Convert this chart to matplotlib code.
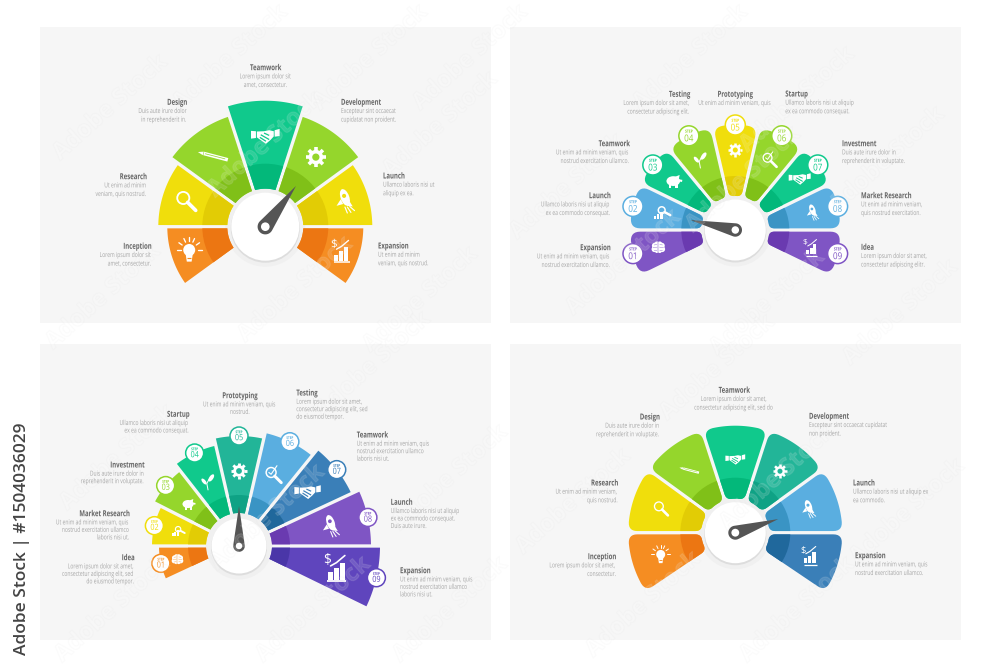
import numpy as np
import matplotlib
matplotlib.use("Agg")
import matplotlib.pyplot as plt
from matplotlib.patches import Circle, Polygon, Rectangle, Ellipse, Wedge
from matplotlib.transforms import Affine2D
import matplotlib.patheffects as pe

plt.rcParams['font.family'] = ['Open Sans', 'DejaVu Sans']

ORANGE, ORANGE_D = '#f58d22', '#ec7612'
YELLOW, YELLOW_D = '#f0de0c', '#e2cc05'
LIME, LIME_D = '#95d62c', '#80c018'
GREEN, GREEN_D = '#10c98c', '#03b87a'
TEAL, TEAL_D = '#22b598', '#0fa285'
BLUE, BLUE_D = '#5aaee0', '#3a94c4'
STEEL, STEEL_D = '#3a7fb8', '#20689c'
PURPLE, PURPLE_D = '#7f55c4', '#6a3ab0'
INDIGO, INDIGO_D = '#5f45bd', '#4a36a8'

# every list below runs counter clockwise, starting at the lower right segment
p1_titles = ["Expansion", "Launch", "Development", "Teamwork", "Design", "Research", "Inception"]
p1_texts = ["Ut enim ad minim\nveniam, quis nostrud.", "Ullamco laboris nisi ut\naliquip ex ea.",
            "Excepteur sint occaecat\ncupidatat non proident.", "Lorem ipsum dolor sit\namet, consectetur.",
            "Duis aute irure dolor\nin reprehenderit in.", "Ut enim ad minim\nveniam, quis nostrud.",
            "Lorem ipsum dolor sit\namet, consectetur."]
p1_edges = [-36, 0, 36, 72, 108, 144, 180, 216]
p1_radius = [98, 107, 116, 126, 116, 107, 98]
p1_colors = [ORANGE, YELLOW, LIME, GREEN, LIME, YELLOW, ORANGE]
p1_darks = [ORANGE_D, YELLOW_D, LIME_D, GREEN_D, LIME_D, YELLOW_D, ORANGE_D]
p1_icons = ["chart", "rocket", "gear", "hands", "pencil", "glass", "bulb"]
p1_needle = 53

p2_titles = ["Idea", "Market Research", "Investment", "Startup", "Prototyping", "Testing", "Teamwork", "Launch", "Expansion"]
p2_texts = ["Lorem ipsum dolor sit amet,\nconsectetur adipiscing elitr.", "Ut enim ad minim veniam,\nquis nostrud exercitation.",
            "Duis aute irure dolor in\nreprehenderit in voluptate.", "Ullamco laboris nisi ut aliquip\nex ea commodo consequat.",
            "Ut enim ad minim veniam, quis", "Lorem ipsum dolor sit amet,\nconsectetur adipiscing elit.",
            "Ut enim ad minim veniam, quis\nnostrud exercitation ullamco.", "Ullamco laboris nisi ut aliquip\nex ea commodo consequat.",
            "Ut enim ad minim veniam, quis\nnostrud exercitation ullamco."]
p2_edges = [-26, 0, 26, 50.5, 77, 103, 129.5, 154, 180, 206]
p2_radius = [105, 105, 105, 105, 105, 105, 105, 105, 105]
p2_colors = [PURPLE, BLUE, GREEN, LIME, YELLOW, LIME, GREEN, BLUE, PURPLE]
p2_darks = [PURPLE_D, BLUE_D, GREEN_D, LIME_D, YELLOW_D, LIME_D, GREEN_D, BLUE_D, PURPLE_D]
p2_steps = ["09", "08", "07", "06", "05", "04", "03", "02", "01"]
p2_icons = ["chart", "rocket", "hands", "check", "gear", "sprout", "pig", "chartglass", "brain"]
p2_needle = 167.5

p3_titles = ["Expansion", "Launch", "Teamwork", "Testing", "Prototyping", "Startup", "Investment", "Market Research", "Idea"]
p3_texts = ["Ut enim ad minim veniam, quis\nnostrud exercitation ullamco\nlaboris nisi ut.",
            "Ullamco laboris nisi ut aliquip\nex ea commodo consequat.\nDuis aute irure.",
            "Ut enim ad minim veniam, quis\nnostrud exercitation ullamco\nlaboris nisi ut.",
            "Lorem ipsum dolor sit amet,\nconsectetur adipiscing elit, sed\ndo eiusmod tempor.",
            "Ut enim ad minim veniam, quis\nnostrud.", "Ullamco laboris nisi ut aliquip\nex ea commodo consequat.",
            "Duis aute irure dolor in\nreprehenderit in voluptate.",
            "Ut enim ad minim veniam, quis\nnostrud exercitation ullamco\nlaboris nisi ut.",
            "Lorem ipsum dolor sit amet,\nconsectetur adipiscing elit, sed\ndo eiusmod tempor."]
p3_edges = [-26, 0, 25, 51, 77, 103, 128, 153, 180, 205]
p3_radius = [141, 132, 124, 116, 110, 103, 95, 87, 80]
p3_colors = [INDIGO, PURPLE, STEEL, BLUE, TEAL, GREEN, LIME, YELLOW, ORANGE]
p3_darks = [INDIGO_D, PURPLE_D, STEEL_D, BLUE_D, TEAL_D, GREEN_D, LIME_D, YELLOW_D, ORANGE_D]
p3_steps = ["09", "08", "07", "06", "05", "04", "03", "02", "01"]
p3_icons = ["chart", "rocket", "hands", "check", "gear", "sprout", "pig", "chartglass", "brain"]
p3_needle = 90

p4_titles = ["Expansion", "Launch", "Development", "Teamwork", "Design", "Research", "Inception"]
p4_texts = ["Ut enim ad minim veniam, quis\nnostrud exercitation ullamco.", "Ullamco laboris nisi ut aliquip ex\nea commodo.",
            "Excepteur sint occaecat cupidatat\nnon proident.", "Lorem ipsum dolor sit amet,\nconsectetur adipiscing elit, sed do",
            "Duis aute irure dolor in\nreprehenderit in voluptate.", "Ut enim ad minim veniam,\nquis nostrud.",
            "Lorem ipsum dolor sit amet,\nconsectetur."]
p4_edges = [-34, 0, 36, 72, 108, 144, 180, 214]
p4_radius = [107, 107, 107, 107, 107, 107, 107]
p4_colors = [STEEL, BLUE, TEAL, GREEN, LIME, YELLOW, ORANGE]
p4_darks = [STEEL_D, BLUE_D, TEAL_D, GREEN_D, LIME_D, YELLOW_D, ORANGE_D]
p4_icons = ["chart", "rocket", "gear", "hands", "pencil", "glass", "bulb"]
p4_needle = 17.6

# layout, in pixels of the picture
panel_boxes = [(40, 27), (510, 27), (40, 344), (510, 344)]
p1_text_x = [378, 383, 341, 265.7, 187.3, 147, 151.7]
p1_text_y = [246, 176, 102.3, 67.7, 102.3, 176.7, 246.3]
p1_text_ha = ['left', 'left', 'left', 'center', 'right', 'right', 'right']
p1_icon_r = [80, 85, 86, 90, 87, 83, 80]
p1_icon_s = [11, 12, 10, 13, 13, 11, 12]

p2_text_x = [861, 861, 842, 785.3, 735.3, 690.3, 630, 611, 611]
p2_text_y = [247.3, 195.7, 143.7, 94, 94.3, 94.3, 143.7, 195.7, 247.7]
p2_text_ha = ['left', 'left', 'left', 'left', 'center', 'right', 'right', 'right', 'right']
p2_icon_r = [78, 80, 82, 78, 80, 78, 79, 76, 79]
p2_icon_s = [8, 8, 10, 8, 7, 8, 8.5, 9, 7]

p3_text_x = [400, 390.7, 356.7, 296.3, 240, 189.7, 144.7, 130, 134.7]
p3_text_y = [570.7, 502.3, 435, 393, 395.7, 414.3, 465, 513.7, 557.7]
p3_text_ha = ['left', 'left', 'left', 'left', 'center', 'right', 'right', 'right', 'right']
p3_icon_r = [100, 95, 87, 79, 75, 71, 66, 63, 63]
p3_icon_s = [13, 11, 12, 9, 8, 8, 7, 7, 6]

p4_text_x = [855, 853, 809, 734.3, 660, 618.3, 616.3]
p4_text_y = [555.7, 483, 416.3, 390.3, 417, 483, 556.7]
p4_text_ha = ['left', 'left', 'left', 'center', 'right', 'right', 'right']
p4_icon_r = [78, 78, 76, 73, 77, 78, 78]
p4_icon_s = [9, 9, 7, 9, 8.5, 8, 9]

mark_x = [110, 265, 440, 103, 295, 420, 470, 690, 797, 567, 743, 887, 623, 767, 900, 373, 117, 267, 450, 112, 313, 450, 717, 573, 777, 907, 643, 797, 230, 370]
mark_y = [108, 145, 125, 297, 290, 300, 58, 58, 100, 187, 180, 160, 263, 303, 313, 365, 458, 518, 478, 610, 610, 610, 368, 502, 478, 512, 605, 610, 58, 58]

fig = plt.figure(figsize=(10, 6.67), dpi=100)
ax = fig.add_axes([0, 0, 1, 1])
ax.set_xlim(0, 1000)
ax.set_ylim(667, 0)
ax.axis('off')


class Squeeze(pe.AbstractPathEffect):
    # the reference uses a condensed face, none is installed, so narrow the glyphs around the anchor
    def __init__(self, x0, fx):
        super().__init__()
        self.x0 = x0
        self.fx = fx

    def draw_path(self, renderer, gc, tpath, affine, rgbFace=None):
        squeeze = Affine2D().translate(-self.x0, 0).scale(self.fx, 1).translate(self.x0, 0)
        renderer.draw_path(gc, tpath, affine + squeeze, rgbFace)


def polar(cx, cy, r, a):
    a = np.radians(a)
    return np.array([cx + r * np.cos(a), cy - r * np.sin(a)])


def side_angle(r, gap):
    return np.degrees(np.arcsin(gap / 2 / r))


def corner(p, c, q, n=8):
    t = np.linspace(0, 1, n)[:, None]
    return (1 - t) ** 2 * p + 2 * t * (1 - t) * c + t ** 2 * q


def sector(cx, cy, a0, a1, r0, r1, gap=3.3, rnd=0, rnd_in=0):
    lo1, hi1 = a0 + side_angle(r1, gap), a1 - side_angle(r1, gap)
    lo0, hi0 = a0 + side_angle(r0, gap), a1 - side_angle(r0, gap)
    if rnd == 0:
        outer = [polar(cx, cy, r1, a) for a in np.linspace(lo1, hi1, 40)]
        inner = [polar(cx, cy, r0, a) for a in np.linspace(hi0, lo0, 20)]
        return np.array(outer + inner)
    d1 = np.degrees(rnd / r1)
    d0 = min(np.degrees(rnd_in / r0), (hi0 - lo0) / 2.2)
    low_a = a0 + side_angle(r1 - rnd, gap)
    high_a = a1 - side_angle(r1 - rnd, gap)
    low_b = a0 + side_angle(r0 + rnd_in, gap)
    high_b = a1 - side_angle(r0 + rnd_in, gap)
    pts = [corner(polar(cx, cy, r1 - rnd, low_a), polar(cx, cy, r1, lo1), polar(cx, cy, r1, lo1 + d1))]
    pts.append(np.array([polar(cx, cy, r1, a) for a in np.linspace(lo1 + d1, hi1 - d1, 30)]))
    pts.append(corner(polar(cx, cy, r1, hi1 - d1), polar(cx, cy, r1, hi1), polar(cx, cy, r1 - rnd, high_a)))
    pts.append(corner(polar(cx, cy, r0 + rnd_in, high_b), polar(cx, cy, r0, hi0), polar(cx, cy, r0, hi0 - d0)))
    pts.append(np.array([polar(cx, cy, r0, a) for a in np.linspace(hi0 - d0, lo0 + d0, 12)]))
    pts.append(corner(polar(cx, cy, r0, lo0 + d0), polar(cx, cy, r0, lo0), polar(cx, cy, r0 + rnd_in, low_b)))
    return np.vstack(pts)


W = 'white'


def line(xs, ys, lw, color=W, cap='round'):
    ax.plot(xs, ys, color=color, lw=lw, solid_capstyle=cap, solid_joinstyle='round', zorder=5)


def icon_gear(x, y, s, bg):
    ax.add_patch(Wedge((x, y), s * .72, 0, 360, width=s * .36, fc=W, ec='none', zorder=5))
    for a in np.arange(0, 360, 45):
        p0, p1 = polar(x, y, s * .6, a), polar(x, y, s, a)
        line([p0[0], p1[0]], [p0[1], p1[1]], s * .26, cap='butt')


def icon_glass(x, y, s, bg, check=False):
    cx, cy = x - s * .28, y - s * .28
    ax.add_patch(Circle((cx, cy), s * .55, fc='none', ec=W, lw=s * .12, zorder=5))
    line([cx + s * .4, x + s * .85], [cy + s * .4, y + s * .85], s * .24)
    if check:
        line([cx - s * .25, cx, cx + s * .65], [cy, cy + s * .2, cy - s * .75], s * .09)


def icon_chart(x, y, s, bg):
    w = s * .36
    for i, h in enumerate([.55, .85, 1.25]):
        ax.add_patch(Rectangle((x - s * .65 + i * (w + s * .1), y + s * .85 - h * s), w, h * s, fc=W, zorder=5))
    line([x - s * .7, x + s * .75], [y + s, y + s], s * .1, cap='butt')
    line([x - s * .45, x, x + s * .65], [y - s * .2, y - s * .45, y - s], s * .09)
    ax.text(x - s * .75, y - s * .65, "$", color=W, fontsize=s * .75, ha='center', va='center', zorder=5)


def icon_chartglass(x, y, s, bg):
    for i, h in enumerate([.35, .55, .8]):
        ax.add_patch(Rectangle((x - s * .85 + i * s * .36, y + s * .65 - h * s), s * .28, h * s, fc=W, zorder=5))
    ax.add_patch(Circle((x + s * .05, y - s * .3), s * .38, fc='none', ec=W, lw=s * .12, zorder=5))
    line([x + s * .35, x + s], [y - s * .1, y + s * .25], s * .2)


def icon_rocket(x, y, s, bg):
    ax.add_patch(Ellipse((x - s * .1, y - s * .25), s * .72, s * 1.45, angle=-20, fc=W, zorder=5))
    ax.add_patch(Circle((x - s * .17, y - s * .38), s * .17, fc=bg, zorder=5))
    ax.add_patch(Polygon([[x - s * .45, y - s * .1], [x - s * .8, y + s * .45], [x - s * .25, y + s * .3]], fc=W, zorder=5))
    ax.add_patch(Polygon([[x + s * .3, y + s * .1], [x + s * .55, y + s * .5], [x + s * .05, y + s * .45]], fc=W, zorder=5))
    line([x + s * .1, x + s * .4], [y + s * .55, y + s], s * .07)
    line([x + s * .3, x + s * .7], [y + s * .5, y + s * .85], s * .07)
    line([x - s * .1, x + s * .1], [y + s * .55, y + s * 1.05], s * .07)


def icon_bulb(x, y, s, bg):
    ax.add_patch(Circle((x, y - s * .12), s * .5, fc=W, zorder=5))
    ax.add_patch(Polygon([[x - s * .3, y + s * .2], [x + s * .3, y + s * .2], [x + s * .2, y + s * .85], [x - s * .2, y + s * .85]], fc=W, zorder=5))
    line([x - s * .18, x + s * .18], [y + s * .55, y + s * .55], s * .07, color=bg, cap='butt')
    for a in [0, 35, 65, 90, 115, 145, 180]:
        p0, p1 = polar(x, y - s * .12, s * .72, a), polar(x, y - s * .12, s * 1.05, a)
        line([p0[0], p1[0]], [p0[1], p1[1]], s * .08)


def icon_pencil(x, y, s, bg):
    line([x - s * .8, x + s * 1.05], [y - s * .22, y + s * .27], s * .2, cap='butt')
    ax.add_patch(Polygon([[x - s * .8, y - s * .36], [x - s * 1.25, y - s * .33], [x - s * .88, y - s * .09]], fc=W, zorder=5))
    line([x - s * .7, x + s * .85], [y - s * .2, y + s * .2], s * .04, color=bg, cap='butt')


def icon_hands(x, y, s, bg):
    # left cuff, right cuff, then the clasped hands tilted a little
    ax.add_patch(Polygon([[x - s * 1.1, y - s * .45], [x - s * .72, y - s * .42], [x - s * .72, y + s * .1], [x - s * 1.1, y + s * .15]], fc=W, zorder=5))
    ax.add_patch(Polygon([[x + s * 1.1, y - s * .6], [x + s * .72, y - s * .5], [x + s * .72, y], [x + s * 1.1, y - s * .05]], fc=W, zorder=5))
    ax.add_patch(Polygon([[x - s * .65, y - s * .4], [x - s * .1, y - s * .42], [x + s * .3, y - s * .5], [x + s * .65, y - s * .42],
                          [x + s * .65, y - s * .02], [x + s * .4, y + s * .25], [x + s * .05, y + s * .55], [x - s * .3, y + s * .3], [x - s * .65, y + s * .05]], fc=W, zorder=5))
    line([x - s * .35, x + s * .3], [y - s * .15, y + s * .22], s * .07, color=bg, cap='butt')
    line([x - s * .42, x + s * .05], [y + s * .05, y + s * .35], s * .07, color=bg, cap='butt')
    line([x - s * .1, x + s * .3], [y - s * .28, y - s * .1], s * .07, color=bg, cap='butt')


def icon_brain(x, y, s, bg):
    for dx, dy, r in [(-.5, -.3, .42), (-.55, .2, .42), (-.2, -.55, .35), (-.2, .45, .3), (.2, -.55, .35), (.2, .45, .3), (.5, -.3, .42), (.55, .2, .42), (0, 0, .55)]:
        ax.add_patch(Circle((x + dx * s, y + dy * s), r * s, fc=W, zorder=5))
    line([x, x], [y - s * .8, y + s * .7], s * .05, color=bg, cap='butt')
    for sign in [-1, 1]:
        line([x + sign * s * .75, x + sign * s * .15], [y, y - s * .1], s * .04, color=bg)
        line([x + sign * s * .6, x + sign * s * .2], [y - s * .4, y - s * .45], s * .04, color=bg)
        line([x + sign * s * .6, x + sign * s * .2], [y + s * .4, y + s * .35], s * .04, color=bg)


def icon_pig(x, y, s, bg):
    ax.add_patch(Ellipse((x, y), s * 1.6, s * 1.15, fc=W, zorder=5))
    ax.add_patch(Polygon([[x + s * .2, y - s * .5], [x + s * .75, y - s * .72], [x + s * .65, y - s * .2]], fc=W, zorder=5))
    ax.add_patch(Rectangle((x - s * .5, y + s * .35), s * .28, s * .45, fc=W, zorder=5))
    ax.add_patch(Rectangle((x + s * .22, y + s * .35), s * .28, s * .45, fc=W, zorder=5))
    line([x + s * .6, x + s * 1.05], [y - s * .1, y - s * .02], s * .18, cap='butt')


def icon_sprout(x, y, s, bg):
    line([x - s * .05, x - s * .2, x + s * .05], [y + s, y + s * .2, y - s * .3], s * .09)
    ax.add_patch(Ellipse((x + s * .35, y - s * .5), s * .5, s * 1.05, angle=35, fc=W, zorder=5))
    ax.add_patch(Ellipse((x - s * .55, y - s * .05), s * .42, s * .9, angle=-40, fc=W, zorder=5))


ICONS = {"gear": icon_gear, "glass": icon_glass, "chart": icon_chart, "chartglass": icon_chartglass,
         "rocket": icon_rocket, "bulb": icon_bulb, "pencil": icon_pencil, "hands": icon_hands,
         "brain": icon_brain, "pig": icon_pig, "sprout": icon_sprout,
         "check": lambda x, y, s, bg: icon_glass(x, y, s, bg, check=True)}


def draw_needle(cx, cy, angle, length, r):
    tip = polar(cx, cy, length, angle)
    a0 = angle + 90
    pts = [tip] + [polar(cx, cy, r, a) for a in np.linspace(a0 - 10, a0 + 190, 30)]
    ax.add_patch(Polygon(pts, fc='#555555', ec='none', zorder=7))
    ax.add_patch(Circle((cx, cy), r * .56, fc='white', ec='none', zorder=8))


def narrow_text(x, y, s, fx, **kw):
    t = ax.text(x, y, s, va='center', zorder=kw.pop('zorder', 9), **kw)
    t.set_path_effects([Squeeze(x, fx)])
    return t


def draw_labels(titles, texts, xs, ys, has, spacing=8.6):
    for t, d, x, y, ha in zip(titles, texts, xs, ys, has):
        narrow_text(x, y, t, .72, ha=ha, fontsize=6, fontweight='bold', color='#666666')
        for i, row in enumerate(d.split("\n")):
            narrow_text(x, y + 9.2 + i * spacing, row, .72, ha=ha, fontsize=5, color='#a6a6a6')


def draw_gauge(cx, cy, edges, radius, colors, darks, icons, icon_r, icon_s, r0, ring, hub, needle, needle_len, pivot,
               rnd=0, rnd_in=0, steps=None, step_r=10):
    ax.add_patch(Circle((cx, cy), hub + 6, fc='#f0f0f0', ec='none', zorder=1))
    for i, r1 in enumerate(radius):
        pts = sector(cx, cy, edges[i], edges[i + 1], r0, r1, rnd=rnd, rnd_in=rnd_in)
        shape = Polygon(pts, fc=colors[i], ec='none', zorder=2)
        ax.add_patch(shape)
        dark = Circle((cx, cy), ring, fc=darks[i], ec='none', zorder=3)
        ax.add_patch(dark)
        dark.set_clip_path(shape)
        mid = (edges[i] + edges[i + 1]) / 2
        ix, iy = polar(cx, cy, icon_r[i], mid)
        ICONS[icons[i]](ix, iy, icon_s[i], colors[i])
        if steps:
            sx, sy = polar(cx, cy, r1, mid)
            ax.add_patch(Circle((sx, sy), step_r, fc='white', ec=colors[i], lw=1.1, zorder=6))
            narrow_text(sx, sy - step_r * .42, "STEP", .8, color=colors[i], fontsize=step_r * .3, fontweight='bold', ha='center', zorder=7)
            narrow_text(sx, sy + step_r * .3, steps[i], .85, color=colors[i], fontsize=step_r * .68, ha='center', zorder=7)
    ax.add_patch(Circle((cx, cy + 1.5), hub + .5, fc='#dddddd', ec='none', zorder=4))
    ax.add_patch(Circle((cx, cy), hub, fc='white', ec='none', zorder=4))
    draw_needle(cx, cy, needle, needle_len, pivot)


for bx, by in panel_boxes:
    ax.add_patch(Rectangle((bx, by), 451, 296, fc='#f6f6f6', ec='none', zorder=0))

draw_gauge(265.3, 226.7, p1_edges, p1_radius, p1_colors, p1_darks, p1_icons, p1_icon_r, p1_icon_s, 38, 63, 34, p1_needle, 51, 7.7)
draw_labels(p1_titles, p1_texts, p1_text_x, p1_text_y, p1_text_ha)

draw_gauge(735.3, 230, p2_edges, p2_radius, p2_colors, p2_darks, p2_icons, p2_icon_r, p2_icon_s, 34, 54, 30.5, p2_needle, 46, 6.7,
           rnd=10, rnd_in=5, steps=p2_steps)
draw_labels(p2_titles, p2_texts, p2_text_x, p2_text_y, p2_text_ha)

draw_gauge(239, 546, p3_edges, p3_radius, p3_colors, p3_darks, p3_icons, p3_icon_r, p3_icon_s, 33, 51, 27.5, p3_needle, 40, 5.8,
           steps=p3_steps, step_r=9)
draw_labels(p3_titles, p3_texts, p3_text_x, p3_text_y, p3_text_ha, spacing=7.5)

draw_gauge(735.3, 532.7, p4_edges, p4_radius, p4_colors, p4_darks, p4_icons, p4_icon_r, p4_icon_s, 34, 55, 30.5, p4_needle, 45, 7,
           rnd=9, rnd_in=6)
draw_labels(p4_titles, p4_texts, p4_text_x, p4_text_y, p4_text_ha)

# faint stock watermark, kept under the labels
for x, y in zip(mark_x, mark_y):
    t = ax.text(x, y, "Adobe Stock", rotation=42, ha='center', va='center', fontsize=17, fontweight='bold',
                color='white', zorder=8.5)
    t.set_path_effects([pe.Stroke(linewidth=.8, foreground='#e2e2e2', alpha=.13)])

ax.text(22, 539, "Adobe Stock | #1504036029", rotation=90, ha='center', va='center', fontsize=12.5, fontweight='semibold',
        color='#444444', zorder=11)

fig.savefig("out.png", dpi=100)
